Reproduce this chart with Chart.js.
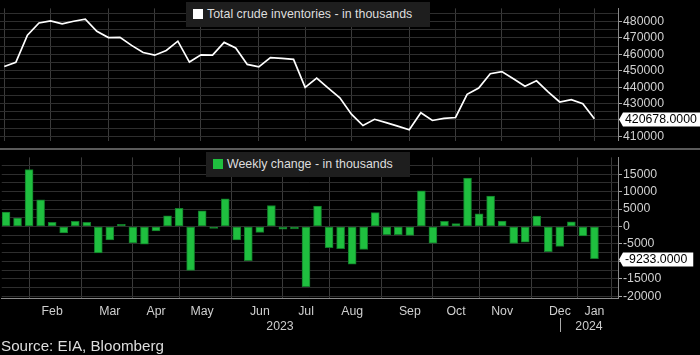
<!DOCTYPE html>
<html><head><meta charset="utf-8">
<script src="https://cdn.jsdelivr.net/npm/chart.js@4/dist/chart.umd.min.js"></script>
<style>
html,body{margin:0;padding:0;background:#000;width:700px;height:355px;overflow:hidden;font-family:"Liberation Sans",Arial,sans-serif;}
#wt{position:absolute;left:0;top:0;width:700px;height:149px;}
#wb{position:absolute;left:0;top:149px;width:700px;height:190px;}
#sep{position:absolute;left:0;top:148px;width:700px;height:2px;background:#5a5a5a;}
.leg{position:absolute;background:#1e1e1e;color:#ddd;font-size:12.4px;line-height:25px;height:25px;white-space:nowrap;}
.leg i{display:inline-block;width:10px;height:10px;vertical-align:-1px;margin:0 4px 0 7px;}
.yr{position:absolute;color:#ccc;font-size:12.3px;transform:translateX(-50%);}
#src{position:absolute;left:1px;top:337px;color:#ddd;font-size:15.2px;}
</style></head><body>
<div id="wt"><canvas id="ct"></canvas></div>
<div id="wb"><canvas id="cb"></canvas></div>
<div id="sep"></div>
<div class="leg" style="left:186px;top:2px;width:244px;"><i style="background:#fff"></i>Total crude inventories - in thousands</div>
<div class="leg" style="left:206px;top:152px;width:204px;"><i style="background:#1fbf3f"></i>Weekly change - in thousands</div>
<div class="yr" style="left:280px;top:319px;">2023</div>
<div class="yr" style="left:589px;top:319px;">2024</div>
<div id="src">Source: EIA, Bloomberg</div>
<script>
// Weekly data, Jan 2023 - Jan 2024 (52 weeks), values in thousands of barrels
const inventory = [452560,455100,471640,479090,480360,478550,480180,481450,474000,470190,
  470370,465460,461100,459470,462380,468010,455290,459650,459470,467280,
  463830,453840,452380,458010,457470,456920,439840,445480,439380,433480,
  423490,416590,420400,418400,416230,414040,424400,419680,420950,421490,
  435660,439480,448200,449470,445110,440570,443840,437120,430940,432390,
  429911,420678];
const weeklyChange = [4100,2400,16300,7640,1220,-1850,1490,1220,-7550,-3840,
  590,-4750,-5100,-1310,3030,5200,-12600,4470,-590,7910,
  -3840,-9810,-1670,6010,-770,-680,-17220,5830,-6100,-6370,
  -10800,-6550,3980,-2350,-2350,-2530,10200,-4790,1450,810,
  13900,3620,8680,1540,-4880,-4520,2980,-7230,-5700,1360,
  -2710,-9233];
const monthTickIdx = [0,4,9,13,17,22,26,30,35,39,43,48,51];
const monthTickLabels = ['','Feb','Mar','Apr','May','Jun','Jul','Aug','Sep','Oct','Nov','Dec','Jan'];
const yearSplitIdx = 48;

const FONT = {family:'"Liberation Sans", Arial, sans-serif', size:12.3};
const GRID = '#2e2e2e';
const VGRID = '#3a3a3a';
const XMIN = -0.37, XMAX = 53.04;

function xAxis(showLabels, h){
  return {
    type:'linear', min:XMIN, max:XMAX, offset:false,
    afterBuildTicks: s => { s.ticks = monthTickIdx.map(v => ({value:v})); },
    afterFit: s => { s.height = h; },
    grid:{color:VGRID, drawTicks:false, lineWidth:1},
    border:{display:showLabels, color:'#8a8a8a'},
    ticks:{display:showLabels, autoSkip:false, maxRotation:0, padding:6, color:'#cfcfcf', font:FONT,
      callback:(v) => { const k = monthTickIdx.indexOf(v); return k >= 0 ? monthTickLabels[k] : ''; }}
  };
}

function calloutPlugin(values){
  return {
    id:'callout',
    afterDraw(chart){
      const ys = chart.scales.y, c = chart.ctx, a = chart.chartArea;
      const v = values[values.length-1];
      const y = Math.round(ys.getPixelForValue(v)) + 0.5;
      const x = a.right + 1;
      const txt = v.toFixed(4);
      c.save();
      c.font = '12.3px "Liberation Sans", Arial, sans-serif';
      const w = c.measureText(txt).width + 8;
      c.fillStyle = '#fff';
      c.beginPath();
      c.moveTo(x, y); c.lineTo(x+4, y-7); c.lineTo(x+4+w, y-7); c.lineTo(x+4+w, y+7); c.lineTo(x+4, y+7);
      c.closePath(); c.fill();
      c.fillStyle = '#000'; c.textBaseline = 'middle'; c.textAlign = 'left';
      c.fillText(txt, x+6, y+0.5);
      c.restore();
    }
  };
}

const yearSepPlugin = {
  id:'yearsep',
  afterDraw(chart){
    const xs = chart.scales.x, c = chart.ctx, a = chart.chartArea;
    const px = Math.round(xs.getPixelForValue(yearSplitIdx)) + 0.5;
    c.save(); c.strokeStyle = '#aaa'; c.lineWidth = 1;
    c.beginPath(); c.moveTo(px, a.bottom + 20); c.lineTo(px, a.bottom + 34); c.stroke(); c.restore();
  }
};

Chart.defaults.animation = false;
Chart.defaults.font.family = FONT.family;

new Chart(document.getElementById('ct'), {
  type:'line',
  data:{datasets:[{data: inventory.map((v,i)=>({x:i,y:v})), borderColor:'#ffffff', borderWidth:1.7,
    pointRadius:0, tension:0}]},
  options:{
    responsive:true, maintainAspectRatio:false, animation:false,
    layout:{padding:0, autoPadding:false},
    plugins:{legend:{display:false}, tooltip:{enabled:false}},
    scales:{
      x: xAxis(false, 1),
      y:{position:'right', min:407400, max:488000,
        afterBuildTicks: s => { const t=[]; for(let v=410000; v<=485000; v+=5000) t.push({value:v}); s.ticks=t; },
        afterFit: s => { s.width = 82; },
        grid:{color:GRID, drawTicks:true, tickLength:4,
          tickColor: ctx => (ctx.tick && ctx.tick.value % 10000 === 0) ? '#aaa' : 'rgba(0,0,0,0)'},
        border:{display:true, color:'#8a8a8a'},
        ticks:{autoSkip:false, padding:1, color:'#cfcfcf', font:FONT,
          callback: v => v % 10000 === 0 ? String(v) : ''}}
    }
  },
  plugins:[calloutPlugin(inventory)]
});

new Chart(document.getElementById('cb'), {
  type:'bar',
  data:{datasets:[{data: weeklyChange.map((v,i)=>({x:i,y:v})), backgroundColor:'#1fbf3f',
    borderColor:'#127a29', borderWidth:1, barThickness:8, borderSkipped:false}]},
  options:{
    responsive:true, maintainAspectRatio:false, animation:false,
    layout:{padding:{top:1,left:0,right:0,bottom:0}, autoPadding:false},
    plugins:{legend:{display:false}, tooltip:{enabled:false}},
    scales:{
      x: xAxis(true, 41),
      y:{position:'right', min:-20500, max:19800,
        afterBuildTicks: s => { const t=[]; for(let v=-20000; v<=17500; v+=2500) t.push({value:v}); s.ticks=t; },
        afterFit: s => { s.width = 82; },
        grid:{color:GRID, drawTicks:true, tickLength:4,
          tickColor: ctx => (ctx.tick && ctx.tick.value % 5000 === 0) ? '#aaa' : 'rgba(0,0,0,0)'},
        border:{display:true, color:'#8a8a8a'},
        ticks:{autoSkip:false, padding:1, color:'#cfcfcf', font:FONT,
          callback: v => v % 5000 === 0 ? String(v) : ''}}
    }
  },
  plugins:[calloutPlugin(weeklyChange), yearSepPlugin]
});
</script>
</body></html>
